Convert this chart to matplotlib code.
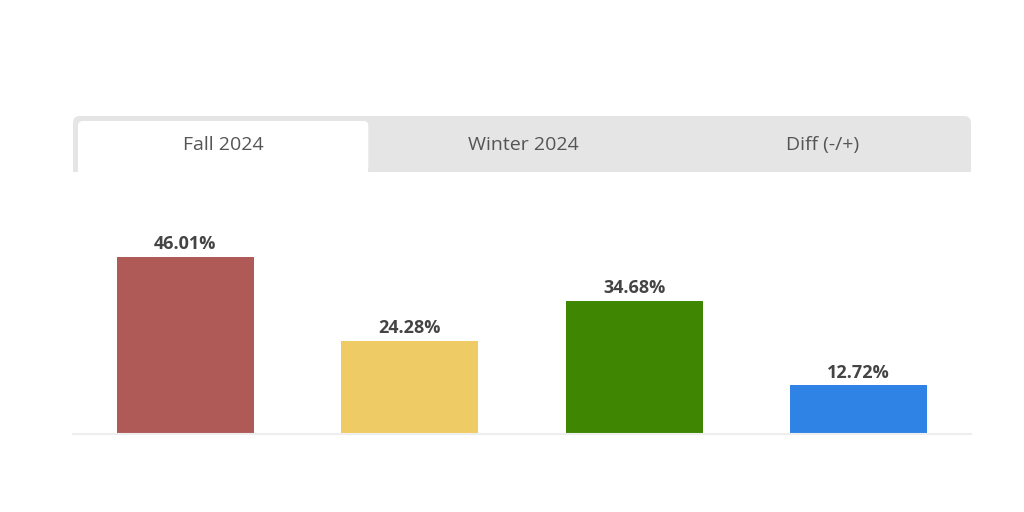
import matplotlib.pyplot as plt
from matplotlib.patches import FancyBboxPatch, Rectangle

categories = ["A", "B", "C", "D"]
values = [46.01, 24.28, 34.68, 12.72]
colors = ["#B05A57", "#EECB65", "#3F8603", "#2F83E4"]
tabs = ["Fall 2024", "Winter 2024", "Diff (-/+)"]
active_tab = 0

W, H = 1024, 512
fig = plt.figure(figsize=(W / 100, H / 100), dpi=100)

# overlay axes in pixel units for the tab bar
bg = fig.add_axes([0, 0, 1, 1])
bg.set_xlim(0, W)
bg.set_ylim(H, 0)
bg.axis("off")

left, right, top, bottom = 73, 971, 116, 172
bg.add_patch(FancyBboxPatch((left, top), right - left, bottom - top,
                            boxstyle="round,pad=0,rounding_size=7",
                            fc="#E5E5E5", ec="none"))
bg.add_patch(Rectangle((left, top + 20), right - left, bottom - top - 20,
                       fc="#E5E5E5", ec="none"))
tab_w = (right - left) / len(tabs)
for i, name in enumerate(tabs):
    x0 = left + i * tab_w
    if i == active_tab:
        bg.add_patch(FancyBboxPatch((x0 + 5, top + 5), tab_w - 9, bottom - top - 5,
                                    boxstyle="round,pad=0,rounding_size=5",
                                    fc="white", ec="none"))
        bg.add_patch(Rectangle((x0 + 5, top + 20), tab_w - 9, bottom - top - 20,
                               fc="white", ec="none"))
    bg.text(x0 + tab_w / 2 + 1, (top + bottom) / 2 + 1, name, ha="center", va="center",
            fontsize=14, color="#555555", family="Open Sans")

# bar chart
ax = fig.add_axes([left / W, (H - 434) / H, (right - left) / W, (434 - 190) / H])
x = range(len(values))
bars = ax.bar(x, values, width=0.61, color=colors)
ax.set_xlim(-0.5, len(values) - 0.5)
ax.set_ylim(0, 63.4)
for b, v in zip(bars, values):
    ax.annotate("{:.2f}%".format(v), (b.get_x() + b.get_width() / 2, v),
                xytext=(0, 2.5), textcoords="offset points", ha="center", va="bottom",
                fontsize=13, fontweight="bold", color="#444444", family="Open Sans")
for s in ["top", "right", "left"]:
    ax.spines[s].set_visible(False)
ax.spines["bottom"].set_color("#EEEEEE")
ax.spines["bottom"].set_linewidth(1.5)
ax.set_xticks([])
ax.set_yticks([])

fig.savefig("out.png", dpi=100)
